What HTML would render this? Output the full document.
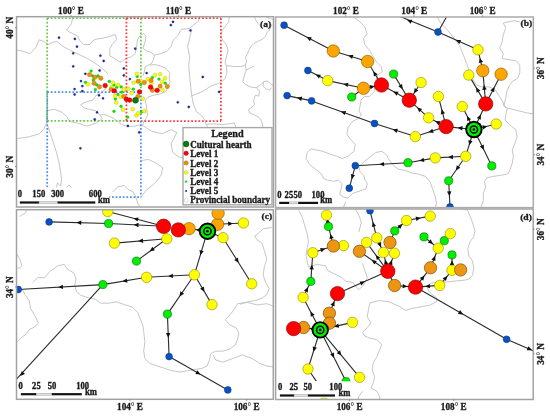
<!DOCTYPE html>
<html><head><meta charset="utf-8"><style>
html,body{margin:0;padding:0;background:#fff;}
svg{display:block;filter:blur(0.35px);}
text{font-family:"Liberation Serif", "DejaVu Serif", serif;fill:#1a1a1a;}
</style></head><body>
<svg width="550" height="416" viewBox="0 0 550 416">
<defs><clipPath id="ca"><rect x="16.5" y="16.7" width="257" height="190.3"/></clipPath><clipPath id="cb"><rect x="275.6" y="16.7" width="257.8" height="190.8"/></clipPath><clipPath id="cc"><rect x="16.5" y="209.7" width="256.8" height="189.6"/></clipPath><clipPath id="cd"><rect x="275.6" y="209" width="257.6" height="190.5"/></clipPath></defs><text x="0" y="0" font-size="9.2" text-anchor="middle" font-weight="bold" stroke="#1a1a1a" stroke-width="0.32" transform="translate(71 13.5) scale(1 1.08)">100<tspan stroke="none">°</tspan> E</text><text x="0" y="0" font-size="9.2" text-anchor="middle" font-weight="bold" stroke="#1a1a1a" stroke-width="0.32" transform="translate(178.5 13.5) scale(1 1.08)">110<tspan stroke="none">°</tspan> E</text><text x="0" y="0" font-size="9.2" text-anchor="middle" font-weight="bold" stroke="#1a1a1a" stroke-width="0.32" transform="translate(12.6 27.8) rotate(-90) scale(1 1.08)">40<tspan stroke="none">°</tspan> N</text><text x="0" y="0" font-size="9.2" text-anchor="middle" font-weight="bold" stroke="#1a1a1a" stroke-width="0.32" transform="translate(12.6 166.8) rotate(-90) scale(1 1.08)">30<tspan stroke="none">°</tspan> N</text><text x="0" y="0" font-size="9.2" text-anchor="middle" font-weight="bold" stroke="#1a1a1a" stroke-width="0.32" transform="translate(346 13.5) scale(1 1.08)">102<tspan stroke="none">°</tspan> E</text><text x="0" y="0" font-size="9.2" text-anchor="middle" font-weight="bold" stroke="#1a1a1a" stroke-width="0.32" transform="translate(414.3 13.5) scale(1 1.08)">104<tspan stroke="none">°</tspan> E</text><text x="0" y="0" font-size="9.2" text-anchor="middle" font-weight="bold" stroke="#1a1a1a" stroke-width="0.32" transform="translate(482.6 13.5) scale(1 1.08)">106<tspan stroke="none">°</tspan> E</text><text x="0" y="0" font-size="9.2" text-anchor="middle" font-weight="bold" stroke="#1a1a1a" stroke-width="0.32" transform="translate(543.8 68.3) rotate(-90) scale(1 1.08)">36<tspan stroke="none">°</tspan> N</text><text x="0" y="0" font-size="9.2" text-anchor="middle" font-weight="bold" stroke="#1a1a1a" stroke-width="0.32" transform="translate(543.8 154.7) rotate(-90) scale(1 1.08)">34<tspan stroke="none">°</tspan> N</text><text x="0" y="0" font-size="9.2" text-anchor="middle" font-weight="bold" stroke="#1a1a1a" stroke-width="0.32" transform="translate(12.6 287.2) rotate(-90) scale(1 1.08)">34<tspan stroke="none">°</tspan> N</text><text x="0" y="0" font-size="9.2" text-anchor="middle" font-weight="bold" stroke="#1a1a1a" stroke-width="0.32" transform="translate(130 409.6) scale(1 1.08)">104<tspan stroke="none">°</tspan> E</text><text x="0" y="0" font-size="9.2" text-anchor="middle" font-weight="bold" stroke="#1a1a1a" stroke-width="0.32" transform="translate(246.6 409.6) scale(1 1.08)">106<tspan stroke="none">°</tspan> E</text><text x="0" y="0" font-size="9.2" text-anchor="middle" font-weight="bold" stroke="#1a1a1a" stroke-width="0.32" transform="translate(349.6 409.8) scale(1 1.08)">106<tspan stroke="none">°</tspan> E</text><text x="0" y="0" font-size="9.2" text-anchor="middle" font-weight="bold" stroke="#1a1a1a" stroke-width="0.32" transform="translate(453.8 409.8) scale(1 1.08)">108<tspan stroke="none">°</tspan> E</text><text x="0" y="0" font-size="9.2" text-anchor="middle" font-weight="bold" stroke="#1a1a1a" stroke-width="0.32" transform="translate(543.8 229.3) rotate(-90) scale(1 1.08)">36<tspan stroke="none">°</tspan> N</text><text x="0" y="0" font-size="9.2" text-anchor="middle" font-weight="bold" stroke="#1a1a1a" stroke-width="0.32" transform="translate(543.8 353.9) rotate(-90) scale(1 1.08)">34<tspan stroke="none">°</tspan> N</text><g clip-path="url(#cb)"><g><polyline points="354.0,17.2 359.9,21.9 364.7,26.6 367.0,33.7 363.5,38.5 364.7,44.4 369.4,50.3 372.9,56.2 376.5,62.1 381.2,66.8 382.4,71.6 377.7,75.1 376.0,80.0 375.0,86.0 374.1,91.7 369.4,96.4 364.7,96.4 361.1,99.9 359.9,107.0 358.9,110.4 361.3,115.2 357.7,118.8 352.9,121.2 348.1,127.2 346.9,134.4 350.5,139.3 355.3,144.1 354.1,151.3 348.1,156.1 342.1,158.5 336.1,156.1 328.9,153.7 322.9,151.3 316.9,150.1 310.9,148.9 307.3,152.5 306.0,158.5 309.7,164.5 315.7,169.3 320.5,172.9 324.1,178.9 327.7,180.1 333.7,181.3 338.5,180.1 342.1,183.7 340.9,189.7 339.7,194.5 343.3,196.9 348.1,198.1 352.9,193.3 360.1,190.9 366.1,188.5 367.3,183.7 364.9,180.1 363.7,175.3 360.1,171.7 358.9,166.9 364.9,160.9 371.0,156.1 375.8,152.5 381.8,151.3 386.6,154.9 389.0,159.7 393.8,165.7 398.6,169.3 406.0,170.5 411.2,172.9 418.4,174.1 425.6,176.5 430.4,182.5 432.8,189.7 435.3,196.9 436.5,203.0 435.3,207.5" fill="none" stroke="#bcbcbc" stroke-width="0.85" stroke-linejoin="round"/><polyline points="345.7,201.8 343.3,207.5" fill="none" stroke="#bcbcbc" stroke-width="0.85" stroke-linejoin="round"/><polyline points="437.1,16.7 440.6,23.1 444.2,26.6 447.7,30.2 451.3,34.9 456.0,40.8 459.6,45.6 461.9,51.5 464.3,57.4 466.6,63.3 469.0,70.4 472.6,78.6 476.1,84.6 482.0,86.9 489.1,86.9 495.0,89.3 498.6,95.2 503.0,102.0 505.7,108.0" fill="none" stroke="#bcbcbc" stroke-width="0.85" stroke-linejoin="round"/><polyline points="519.8,21.9 515.1,20.7 508.0,21.9 503.3,23.1 505.7,27.8 503.3,34.9 502.1,42.0 499.7,47.9 503.3,53.8 502.1,58.6 509.2,59.7 516.3,60.9 519.8,65.6 519.8,72.7 517.5,78.6 512.7,81.0 509.2,85.7 506.8,91.7 505.7,98.7 503.3,105.8 507.4,108.0 506.2,112.8 505.0,120.0 509.8,124.8 515.8,129.6 517.0,136.8 514.6,144.1 512.2,150.1 513.4,156.1 512.2,163.3 509.8,170.5 507.4,174.1 500.2,175.3 492.9,176.5 486.9,177.7 484.5,181.3 485.7,187.3 483.3,193.3 483.3,200.5 480.9,207.5" fill="none" stroke="#bcbcbc" stroke-width="0.85" stroke-linejoin="round"/><polyline points="507.4,108.0 517.0,110.4 526.6,112.8 533.4,114.0" fill="none" stroke="#bcbcbc" stroke-width="0.85" stroke-linejoin="round"/></g><line x1="473.9" y1="129.5" x2="446.1" y2="126.6" stroke="#2a2a2a" stroke-width="1.1"/>
<line x1="473.9" y1="129.5" x2="462.3" y2="106.5" stroke="#2a2a2a" stroke-width="1.1"/>
<line x1="473.9" y1="129.5" x2="485.7" y2="103.9" stroke="#2a2a2a" stroke-width="1.1"/>
<line x1="473.9" y1="129.5" x2="496.2" y2="124.0" stroke="#2a2a2a" stroke-width="1.1"/>
<line x1="473.9" y1="129.5" x2="465.7" y2="156.3" stroke="#2a2a2a" stroke-width="1.1"/>
<line x1="473.9" y1="129.5" x2="491.8" y2="165.9" stroke="#2a2a2a" stroke-width="1.1"/>
<line x1="485.7" y1="103.9" x2="468.8" y2="75.1" stroke="#2a2a2a" stroke-width="1.1"/>
<line x1="485.7" y1="103.9" x2="482.8" y2="70.7" stroke="#2a2a2a" stroke-width="1.1"/>
<line x1="485.7" y1="103.9" x2="501.1" y2="74.2" stroke="#2a2a2a" stroke-width="1.1"/>
<line x1="482.8" y1="70.7" x2="478.0" y2="49.8" stroke="#2a2a2a" stroke-width="1.1"/>
<line x1="478.0" y1="49.8" x2="438.0" y2="32.0" stroke="#2a2a2a" stroke-width="1.1"/>
<line x1="438.0" y1="32.0" x2="400.6" y2="16.7" stroke="#2a2a2a" stroke-width="1.1"/>
<line x1="438.0" y1="32.0" x2="446.6" y2="16.7" stroke="#2a2a2a" stroke-width="1.1"/>
<line x1="446.1" y1="126.6" x2="438.4" y2="96.5" stroke="#2a2a2a" stroke-width="1.1"/>
<line x1="446.1" y1="126.6" x2="428.6" y2="117.8" stroke="#2a2a2a" stroke-width="1.1"/>
<line x1="428.6" y1="117.8" x2="409.3" y2="100.2" stroke="#2a2a2a" stroke-width="1.1"/>
<line x1="446.1" y1="126.6" x2="415.3" y2="136.6" stroke="#2a2a2a" stroke-width="1.1"/>
<line x1="415.3" y1="136.6" x2="374.5" y2="123.5" stroke="#2a2a2a" stroke-width="1.1"/>
<line x1="374.5" y1="123.5" x2="311.6" y2="100.9" stroke="#2a2a2a" stroke-width="1.1"/>
<line x1="311.6" y1="100.9" x2="287.1" y2="95.6" stroke="#2a2a2a" stroke-width="1.1"/>
<line x1="421.1" y1="82.5" x2="409.3" y2="100.2" stroke="#2a2a2a" stroke-width="1.1"/>
<line x1="393.6" y1="74.1" x2="409.3" y2="100.2" stroke="#2a2a2a" stroke-width="1.1"/>
<line x1="409.3" y1="100.2" x2="381.5" y2="85.0" stroke="#2a2a2a" stroke-width="1.1"/>
<line x1="363.5" y1="88.3" x2="381.5" y2="85.0" stroke="#2a2a2a" stroke-width="1.1"/>
<line x1="363.5" y1="88.3" x2="351.7" y2="97.0" stroke="#2a2a2a" stroke-width="1.1"/>
<line x1="363.5" y1="88.3" x2="327.7" y2="80.6" stroke="#2a2a2a" stroke-width="1.1"/>
<line x1="327.7" y1="80.6" x2="307.9" y2="70.5" stroke="#2a2a2a" stroke-width="1.1"/>
<line x1="381.5" y1="85.0" x2="367.6" y2="61.5" stroke="#2a2a2a" stroke-width="1.1"/>
<line x1="367.6" y1="61.5" x2="333.3" y2="51.0" stroke="#2a2a2a" stroke-width="1.1"/>
<line x1="333.3" y1="51.0" x2="284.1" y2="25.2" stroke="#2a2a2a" stroke-width="1.1"/>
<line x1="465.7" y1="156.3" x2="435.3" y2="157.9" stroke="#2a2a2a" stroke-width="1.1"/>
<line x1="435.3" y1="157.9" x2="408.0" y2="162.7" stroke="#2a2a2a" stroke-width="1.1"/>
<line x1="408.0" y1="162.7" x2="355.3" y2="165.7" stroke="#2a2a2a" stroke-width="1.1"/>
<line x1="355.3" y1="165.7" x2="349.3" y2="188.2" stroke="#2a2a2a" stroke-width="1.1"/>
<line x1="465.7" y1="156.3" x2="448.7" y2="180.8" stroke="#2a2a2a" stroke-width="1.1"/>
<line x1="448.7" y1="180.8" x2="450.0" y2="206.9" stroke="#2a2a2a" stroke-width="1.1"/>
<polygon points="457.6,127.8 462.6,126.1 462.2,130.5" fill="#111"/>
<polygon points="467.0,115.9 471.1,119.2 467.2,121.1" fill="#111"/>
<polygon points="480.8,114.5 480.8,119.8 476.8,118.0" fill="#111"/>
<polygon points="487.4,126.2 483.2,129.5 482.2,125.2" fill="#111"/>
<polygon points="469.1,145.2 468.4,140.0 472.6,141.2" fill="#111"/>
<polygon points="483.9,149.9 479.8,146.5 483.8,144.6" fill="#111"/>
<polygon points="476.0,87.4 480.4,90.5 476.6,92.7" fill="#111"/>
<polygon points="484.0,84.9 486.7,89.5 482.3,89.9" fill="#111"/>
<polygon points="494.5,86.9 494.2,92.2 490.3,90.2" fill="#111"/>
<polygon points="479.9,57.9 483.1,62.1 478.8,63.1" fill="#111"/>
<polygon points="455.8,39.9 461.1,39.9 459.3,43.9" fill="#111"/>
<polygon points="407.1,20.0 412.4,19.8 410.7,23.8" fill="#111"/>
<polygon points="441.7,109.2 445.0,113.3 440.7,114.4" fill="#111"/>
<polygon points="435.2,121.1 440.5,121.3 438.5,125.2" fill="#111"/>
<polygon points="417.2,107.4 422.2,109.0 419.2,112.2" fill="#111"/>
<polygon points="428.4,132.3 432.3,128.8 433.7,133.0" fill="#111"/>
<polygon points="392.6,129.3 397.9,128.7 396.5,132.9" fill="#111"/>
<polygon points="340.8,111.4 346.1,110.9 344.6,115.1" fill="#111"/>
<polygon points="297.0,97.7 302.2,96.6 301.2,100.9" fill="#111"/>
<polygon points="413.9,93.3 414.7,88.1 418.4,90.6" fill="#111"/>
<polygon points="402.7,89.2 398.3,86.2 402.1,84.0" fill="#111"/>
<polygon points="393.3,91.4 398.6,91.8 396.5,95.7" fill="#111"/>
<polygon points="374.9,86.2 370.5,89.2 369.7,84.9" fill="#111"/>
<polygon points="343.3,83.9 348.4,82.8 347.5,87.1" fill="#111"/>
<polygon points="315.7,74.5 320.9,74.7 318.9,78.6" fill="#111"/>
<polygon points="373.3,71.2 377.7,74.2 373.9,76.4" fill="#111"/>
<polygon points="348.2,55.5 353.4,54.8 352.1,59.1" fill="#111"/>
<polygon points="306.6,37.0 311.8,37.3 309.8,41.2" fill="#111"/>
<polygon points="448.1,157.2 452.8,154.8 453.0,159.2" fill="#111"/>
<polygon points="419.3,160.7 423.6,157.7 424.4,162.1" fill="#111"/>
<polygon points="379.3,164.3 383.9,161.9 384.2,166.3" fill="#111"/>
<polygon points="351.7,179.3 350.8,174.1 355.0,175.2" fill="#111"/>
<polygon points="455.8,170.5 456.8,165.3 460.4,167.8" fill="#111"/>
<polygon points="449.5,196.2 447.0,191.6 451.4,191.3" fill="#111"/><circle cx="307.9" cy="70.5" r="3.40" fill="#0a50c0" stroke="#0a3a8a" stroke-width="0.6"/>
<circle cx="284.1" cy="25.2" r="3.40" fill="#0a50c0" stroke="#0a3a8a" stroke-width="0.6"/>
<circle cx="438.0" cy="32.0" r="3.40" fill="#0a50c0" stroke="#0a3a8a" stroke-width="0.6"/>
<circle cx="374.5" cy="123.5" r="3.40" fill="#0a50c0" stroke="#0a3a8a" stroke-width="0.6"/>
<circle cx="311.6" cy="100.9" r="3.40" fill="#0a50c0" stroke="#0a3a8a" stroke-width="0.6"/>
<circle cx="287.1" cy="95.6" r="3.40" fill="#0a50c0" stroke="#0a3a8a" stroke-width="0.6"/>
<circle cx="355.3" cy="165.7" r="3.40" fill="#0a50c0" stroke="#0a3a8a" stroke-width="0.6"/>
<circle cx="349.3" cy="188.2" r="3.40" fill="#0a50c0" stroke="#0a3a8a" stroke-width="0.6"/>
<circle cx="450.0" cy="206.9" r="3.40" fill="#0a50c0" stroke="#0a3a8a" stroke-width="0.6"/>
<circle cx="491.8" cy="165.9" r="4.10" fill="#00ee00" stroke="#006a00" stroke-width="0.6"/>
<circle cx="393.6" cy="74.1" r="4.10" fill="#00ee00" stroke="#006a00" stroke-width="0.6"/>
<circle cx="351.7" cy="97.0" r="4.10" fill="#00ee00" stroke="#006a00" stroke-width="0.6"/>
<circle cx="408.0" cy="162.7" r="4.10" fill="#00ee00" stroke="#006a00" stroke-width="0.6"/>
<circle cx="448.7" cy="180.8" r="4.10" fill="#00ee00" stroke="#006a00" stroke-width="0.6"/>
<circle cx="462.3" cy="106.5" r="5.20" fill="#ffff00" stroke="#8a8a00" stroke-width="0.6"/>
<circle cx="496.2" cy="124.0" r="5.20" fill="#ffff00" stroke="#8a8a00" stroke-width="0.6"/>
<circle cx="465.7" cy="156.3" r="5.20" fill="#ffff00" stroke="#8a8a00" stroke-width="0.6"/>
<circle cx="438.4" cy="96.5" r="5.20" fill="#ffff00" stroke="#8a8a00" stroke-width="0.6"/>
<circle cx="428.6" cy="117.8" r="5.20" fill="#ffff00" stroke="#8a8a00" stroke-width="0.6"/>
<circle cx="421.1" cy="82.5" r="5.20" fill="#ffff00" stroke="#8a8a00" stroke-width="0.6"/>
<circle cx="327.7" cy="80.6" r="5.20" fill="#ffff00" stroke="#8a8a00" stroke-width="0.6"/>
<circle cx="468.8" cy="75.1" r="5.20" fill="#ffff00" stroke="#8a8a00" stroke-width="0.6"/>
<circle cx="478.0" cy="49.8" r="5.20" fill="#ffff00" stroke="#8a8a00" stroke-width="0.6"/>
<circle cx="415.3" cy="136.6" r="5.20" fill="#ffff00" stroke="#8a8a00" stroke-width="0.6"/>
<circle cx="435.3" cy="157.9" r="5.20" fill="#ffff00" stroke="#8a8a00" stroke-width="0.6"/>
<circle cx="363.5" cy="88.3" r="6.20" fill="#ffa500" stroke="#7a5200" stroke-width="0.6"/>
<circle cx="367.6" cy="61.5" r="6.20" fill="#ffa500" stroke="#7a5200" stroke-width="0.6"/>
<circle cx="333.3" cy="51.0" r="6.20" fill="#ffa500" stroke="#7a5200" stroke-width="0.6"/>
<circle cx="482.8" cy="70.7" r="6.20" fill="#ffa500" stroke="#7a5200" stroke-width="0.6"/>
<circle cx="501.1" cy="74.2" r="6.20" fill="#ffa500" stroke="#7a5200" stroke-width="0.6"/>
<circle cx="446.1" cy="126.6" r="7.20" fill="#ff0000" stroke="#7a0000" stroke-width="0.6"/>
<circle cx="485.7" cy="103.9" r="7.20" fill="#ff0000" stroke="#7a0000" stroke-width="0.6"/>
<circle cx="409.3" cy="100.2" r="7.20" fill="#ff0000" stroke="#7a0000" stroke-width="0.6"/>
<circle cx="381.5" cy="85.0" r="7.20" fill="#ff0000" stroke="#7a0000" stroke-width="0.6"/>
<circle cx="473.9" cy="129.5" r="8.7" fill="#000"/><circle cx="473.9" cy="129.5" r="6.79" fill="#00f000"/><circle cx="473.9" cy="129.5" r="4.35" fill="#000"/><circle cx="473.9" cy="129.5" r="2.87" fill="#00f000"/><circle cx="473.9" cy="129.5" r="1.30" fill="#000"/></g><g clip-path="url(#cc)"><g><polyline points="19.6,216.4 25.6,212.8 26.8,209.7" fill="none" stroke="#bcbcbc" stroke-width="0.85" stroke-linejoin="round"/><polyline points="16.5,253.7 19.6,258.5 22.0,265.7 19.6,268.1 16.5,268.0" fill="none" stroke="#bcbcbc" stroke-width="0.85" stroke-linejoin="round"/><polyline points="18.2,289.5 22.6,290.0 25.3,295.3 29.2,300.6 30.6,308.5 34.5,315.1 38.5,323.1 34.5,327.0 29.2,329.7 26.6,333.7 21.3,337.6 17.3,341.6" fill="none" stroke="#bcbcbc" stroke-width="0.85" stroke-linejoin="round"/><polyline points="32.8,282.5 37.6,277.7 44.8,277.7 49.7,271.7 58.1,265.7 64.1,264.5 67.7,269.3 73.7,272.9 76.1,278.9 74.9,284.9 76.1,290.9 80.8,295.3 88.8,297.9 95.4,299.3 100.7,303.2 108.6,303.2 116.5,301.9 124.5,304.6 132.4,307.2 137.7,312.5 140.3,319.1 143.0,325.7 143.7,331.7 144.9,341.5 143.7,351.2 144.9,358.5 149.8,363.4 157.1,365.9 164.4,368.3 171.7,370.7 180.2,372.0 187.6,370.7 194.9,369.5 202.2,368.3 207.1,365.9 209.5,359.8 210.7,353.7 215.6,351.2 222.9,351.2 230.2,348.8 235.1,345.1 237.6,339.0 238.8,332.9 236.3,328.0 229.0,324.4 225.4,319.5 230.2,314.6 233.9,309.8 237.6,303.7 247.3,302.4 257.1,304.9 266.8,303.7 273.3,306.1" fill="none" stroke="#bcbcbc" stroke-width="0.85" stroke-linejoin="round"/><polyline points="271.7,227.5 263.2,228.7 259.5,232.4 254.6,236.0 257.1,239.7 262.0,243.4 264.4,250.7 266.8,259.2 264.4,266.5 263.2,275.1 265.6,282.4 269.3,288.5 266.8,294.6 262.0,298.2 254.6,300.7 247.3,301.9 240.0,304.3" fill="none" stroke="#bcbcbc" stroke-width="0.85" stroke-linejoin="round"/><polyline points="213.2,354.9 215.6,359.8 222.9,362.2 232.7,358.5 242.4,354.9 252.2,358.5 259.5,363.4 266.8,365.9 273.3,367.1" fill="none" stroke="#bcbcbc" stroke-width="0.85" stroke-linejoin="round"/></g><line x1="207.5" y1="231.2" x2="189.1" y2="228.7" stroke="#2a2a2a" stroke-width="1.1"/>
<line x1="163.6" y1="226.3" x2="107.8" y2="211.5" stroke="#2a2a2a" stroke-width="1.1"/>
<line x1="163.6" y1="226.3" x2="108.6" y2="223.5" stroke="#2a2a2a" stroke-width="1.1"/>
<line x1="108.6" y1="223.5" x2="49.1" y2="221.9" stroke="#2a2a2a" stroke-width="1.1"/>
<line x1="166.8" y1="238.8" x2="114.4" y2="243.1" stroke="#2a2a2a" stroke-width="1.1"/>
<line x1="166.8" y1="238.8" x2="136.5" y2="261.1" stroke="#2a2a2a" stroke-width="1.1"/>
<line x1="217.6" y1="224.3" x2="243.5" y2="223.0" stroke="#2a2a2a" stroke-width="1.1"/>
<line x1="207.5" y1="231.2" x2="194.4" y2="274.8" stroke="#2a2a2a" stroke-width="1.1"/>
<line x1="223.0" y1="237.7" x2="251.7" y2="283.8" stroke="#2a2a2a" stroke-width="1.1"/>
<line x1="194.4" y1="274.8" x2="146.6" y2="277.3" stroke="#2a2a2a" stroke-width="1.1"/>
<line x1="146.6" y1="277.3" x2="102.9" y2="284.6" stroke="#2a2a2a" stroke-width="1.1"/>
<line x1="102.9" y1="284.6" x2="18.2" y2="289.5" stroke="#2a2a2a" stroke-width="1.1"/>
<line x1="102.9" y1="284.6" x2="16.5" y2="379.2" stroke="#2a2a2a" stroke-width="1.1"/>
<line x1="194.4" y1="274.8" x2="167.4" y2="314.1" stroke="#2a2a2a" stroke-width="1.1"/>
<line x1="194.4" y1="274.8" x2="212.0" y2="304.6" stroke="#2a2a2a" stroke-width="1.1"/>
<line x1="167.4" y1="314.1" x2="169.1" y2="356.6" stroke="#2a2a2a" stroke-width="1.1"/>
<line x1="169.1" y1="356.6" x2="227.8" y2="389.9" stroke="#2a2a2a" stroke-width="1.1"/>
<line x1="207.5" y1="231.2" x2="223.0" y2="237.7" stroke="#2a2a2a" stroke-width="1.1"/>
<line x1="207.5" y1="231.2" x2="217.6" y2="224.3" stroke="#2a2a2a" stroke-width="1.1"/>
<polygon points="195.9,229.6 201.0,228.1 200.4,232.5" fill="#111"/>
<polygon points="133.4,218.3 138.6,217.4 137.5,221.6" fill="#111"/>
<polygon points="133.7,224.8 138.6,222.8 138.4,227.2" fill="#111"/>
<polygon points="76.5,222.6 81.3,220.6 81.2,225.0" fill="#111"/>
<polygon points="138.2,241.1 142.8,238.6 143.2,242.9" fill="#111"/>
<polygon points="149.7,251.4 152.3,246.8 154.9,250.3" fill="#111"/>
<polygon points="232.9,223.5 228.3,226.0 228.0,221.6" fill="#111"/>
<polygon points="200.3,255.3 199.5,250.1 203.7,251.3" fill="#111"/>
<polygon points="238.6,262.8 234.2,259.9 237.9,257.5" fill="#111"/>
<polygon points="168.1,276.2 172.8,273.7 173.0,278.1" fill="#111"/>
<polygon points="122.4,281.3 126.8,278.4 127.5,282.7" fill="#111"/>
<polygon points="58.2,287.2 62.8,284.7 63.1,289.1" fill="#111"/>
<polygon points="20.2,376.1 21.8,371.0 25.0,374.0" fill="#111"/>
<polygon points="179.5,296.4 180.4,291.2 184.1,293.7" fill="#111"/>
<polygon points="204.4,291.8 200.1,288.8 203.9,286.5" fill="#111"/>
<polygon points="168.3,337.7 166.0,333.0 170.4,332.9" fill="#111"/>
<polygon points="200.5,374.4 195.3,374.0 197.4,370.2" fill="#111"/><circle cx="49.1" cy="221.9" r="3.40" fill="#0a50c0" stroke="#0a3a8a" stroke-width="0.6"/>
<circle cx="18.2" cy="289.5" r="3.40" fill="#0a50c0" stroke="#0a3a8a" stroke-width="0.6"/>
<circle cx="169.1" cy="356.6" r="3.40" fill="#0a50c0" stroke="#0a3a8a" stroke-width="0.6"/>
<circle cx="227.8" cy="389.9" r="3.40" fill="#0a50c0" stroke="#0a3a8a" stroke-width="0.6"/>
<circle cx="108.6" cy="223.5" r="4.10" fill="#00ee00" stroke="#006a00" stroke-width="0.6"/>
<circle cx="136.5" cy="261.1" r="4.10" fill="#00ee00" stroke="#006a00" stroke-width="0.6"/>
<circle cx="102.9" cy="284.6" r="4.10" fill="#00ee00" stroke="#006a00" stroke-width="0.6"/>
<circle cx="167.4" cy="314.1" r="4.10" fill="#00ee00" stroke="#006a00" stroke-width="0.6"/>
<circle cx="243.5" cy="223.0" r="5.20" fill="#ffff00" stroke="#8a8a00" stroke-width="0.6"/>
<circle cx="223.0" cy="237.7" r="5.20" fill="#ffff00" stroke="#8a8a00" stroke-width="0.6"/>
<circle cx="166.8" cy="238.8" r="5.20" fill="#ffff00" stroke="#8a8a00" stroke-width="0.6"/>
<circle cx="107.8" cy="211.5" r="5.20" fill="#ffff00" stroke="#8a8a00" stroke-width="0.6"/>
<circle cx="114.4" cy="243.1" r="5.20" fill="#ffff00" stroke="#8a8a00" stroke-width="0.6"/>
<circle cx="194.4" cy="274.8" r="5.20" fill="#ffff00" stroke="#8a8a00" stroke-width="0.6"/>
<circle cx="146.6" cy="277.3" r="5.20" fill="#ffff00" stroke="#8a8a00" stroke-width="0.6"/>
<circle cx="212.0" cy="304.6" r="5.20" fill="#ffff00" stroke="#8a8a00" stroke-width="0.6"/>
<circle cx="251.7" cy="283.8" r="5.20" fill="#ffff00" stroke="#8a8a00" stroke-width="0.6"/>
<circle cx="189.1" cy="228.7" r="6.20" fill="#ffa500" stroke="#7a5200" stroke-width="0.6"/>
<circle cx="217.6" cy="224.3" r="6.20" fill="#ffa500" stroke="#7a5200" stroke-width="0.6"/>
<circle cx="218.1" cy="213.2" r="6.20" fill="#ffa500" stroke="#7a5200" stroke-width="0.6"/>
<circle cx="163.6" cy="226.3" r="7.20" fill="#ff0000" stroke="#7a0000" stroke-width="0.6"/>
<circle cx="178.3" cy="229.9" r="7.20" fill="#ff0000" stroke="#7a0000" stroke-width="0.6"/>
<circle cx="207.5" cy="231.2" r="8.7" fill="#000"/><circle cx="207.5" cy="231.2" r="6.79" fill="#00f000"/><circle cx="207.5" cy="231.2" r="4.35" fill="#000"/><circle cx="207.5" cy="231.2" r="2.87" fill="#00f000"/><circle cx="207.5" cy="231.2" r="1.30" fill="#000"/></g><g clip-path="url(#cd)"><g><polyline points="298.8,210.4 302.4,217.6 304.8,226.0 307.3,234.4 308.5,241.7 307.3,247.7 306.0,254.9 307.3,262.1 308.5,266.9 316.9,264.5 325.3,265.7 327.7,270.5 334.9,274.1 342.1,277.7 345.7,281.3 352.9,282.5 356.5,287.3 358.9,289.7 363.7,284.9 367.3,277.7 364.9,270.5 362.5,263.3" fill="none" stroke="#bcbcbc" stroke-width="0.85" stroke-linejoin="round"/><polyline points="355.3,209.2 358.9,215.2 361.3,222.4 358.9,232.0" fill="none" stroke="#bcbcbc" stroke-width="0.85" stroke-linejoin="round"/><polyline points="369.8,303.0 379.4,300.5 389.0,301.8 398.6,306.0 405.8,310.5 411.6,308.4 417.5,307.6 423.3,306.2 429.1,305.5 433.5,303.3 437.1,301.1 436.4,297.5 432.0,294.5 429.1,291.6 427.6,288.7 429.1,284.4 432.0,282.9 437.8,282.2 443.6,282.2 450.9,281.5 458.2,280.7 465.5,280.0 468.9,278.9" fill="none" stroke="#bcbcbc" stroke-width="0.85" stroke-linejoin="round"/><polyline points="369.8,303.0 368.5,309.6 367.3,316.8 371.0,322.8 367.3,327.6 362.5,332.5 364.9,336.1 371.0,338.5 377.0,339.7 381.8,344.5 379.4,350.5 377.0,356.5 373.4,362.5 372.2,369.7 374.6,376.9 373.4,382.9 371.0,387.7 377.0,391.3 379.4,396.2 380.0,399.5" fill="none" stroke="#bcbcbc" stroke-width="0.85" stroke-linejoin="round"/><polyline points="362.5,391.3 358.9,396.2 358.0,399.5" fill="none" stroke="#bcbcbc" stroke-width="0.85" stroke-linejoin="round"/><polyline points="462.9,209.2 467.7,210.4 470.1,216.4 472.5,222.4 474.9,230.8 473.7,236.8 470.1,241.7 467.7,248.9 468.9,256.1 472.5,260.9 473.7,268.1 472.5,275.3 468.9,278.9" fill="none" stroke="#bcbcbc" stroke-width="0.85" stroke-linejoin="round"/></g><line x1="320.2" y1="329.9" x2="303.1" y2="297.4" stroke="#2a2a2a" stroke-width="1.1"/>
<line x1="303.1" y1="297.4" x2="310.8" y2="281.4" stroke="#2a2a2a" stroke-width="1.1"/>
<line x1="310.8" y1="281.4" x2="312.8" y2="252.7" stroke="#2a2a2a" stroke-width="1.1"/>
<line x1="312.8" y1="252.7" x2="333.4" y2="246.0" stroke="#2a2a2a" stroke-width="1.1"/>
<line x1="333.4" y1="246.0" x2="328.5" y2="226.6" stroke="#2a2a2a" stroke-width="1.1"/>
<line x1="328.5" y1="226.6" x2="326.5" y2="215.1" stroke="#2a2a2a" stroke-width="1.1"/>
<line x1="329.4" y1="313.2" x2="337.5" y2="293.6" stroke="#2a2a2a" stroke-width="1.1"/>
<line x1="337.5" y1="293.6" x2="387.8" y2="271.3" stroke="#2a2a2a" stroke-width="1.1"/>
<line x1="387.8" y1="271.3" x2="359.4" y2="251.3" stroke="#2a2a2a" stroke-width="1.1"/>
<line x1="387.8" y1="271.3" x2="366.5" y2="242.4" stroke="#2a2a2a" stroke-width="1.1"/>
<line x1="387.8" y1="271.3" x2="383.4" y2="252.4" stroke="#2a2a2a" stroke-width="1.1"/>
<line x1="387.8" y1="271.3" x2="394.5" y2="253.2" stroke="#2a2a2a" stroke-width="1.1"/>
<line x1="376.8" y1="237.8" x2="383.4" y2="252.4" stroke="#2a2a2a" stroke-width="1.1"/>
<line x1="376.8" y1="237.8" x2="370.0" y2="210.7" stroke="#2a2a2a" stroke-width="1.1"/>
<line x1="390.0" y1="242.4" x2="394.8" y2="230.9" stroke="#2a2a2a" stroke-width="1.1"/>
<line x1="394.8" y1="230.9" x2="406.5" y2="220.5" stroke="#2a2a2a" stroke-width="1.1"/>
<line x1="406.5" y1="220.5" x2="430.2" y2="216.1" stroke="#2a2a2a" stroke-width="1.1"/>
<line x1="387.8" y1="271.3" x2="394.6" y2="285.5" stroke="#2a2a2a" stroke-width="1.1"/>
<line x1="394.6" y1="285.5" x2="415.5" y2="287.1" stroke="#2a2a2a" stroke-width="1.1"/>
<line x1="415.5" y1="287.1" x2="430.5" y2="267.8" stroke="#2a2a2a" stroke-width="1.1"/>
<line x1="439.7" y1="285.4" x2="415.5" y2="287.1" stroke="#2a2a2a" stroke-width="1.1"/>
<line x1="415.5" y1="287.1" x2="506.6" y2="339.3" stroke="#2a2a2a" stroke-width="1.1"/>
<line x1="506.6" y1="339.3" x2="533.2" y2="350.8" stroke="#2a2a2a" stroke-width="1.1"/>
<line x1="430.5" y1="267.8" x2="438.2" y2="248.2" stroke="#2a2a2a" stroke-width="1.1"/>
<line x1="424.0" y1="236.9" x2="438.2" y2="248.2" stroke="#2a2a2a" stroke-width="1.1"/>
<line x1="439.7" y1="285.4" x2="452.0" y2="270.3" stroke="#2a2a2a" stroke-width="1.1"/>
<line x1="452.0" y1="270.3" x2="452.0" y2="254.9" stroke="#2a2a2a" stroke-width="1.1"/>
<line x1="352.5" y1="322.4" x2="320.2" y2="329.9" stroke="#2a2a2a" stroke-width="1.1"/>
<line x1="320.2" y1="329.9" x2="308.0" y2="369.0" stroke="#2a2a2a" stroke-width="1.1"/>
<line x1="308.0" y1="369.0" x2="316.3" y2="381.1" stroke="#2a2a2a" stroke-width="1.1"/>
<line x1="320.2" y1="329.9" x2="346.0" y2="381.6" stroke="#2a2a2a" stroke-width="1.1"/>
<line x1="320.2" y1="329.9" x2="359.6" y2="377.3" stroke="#2a2a2a" stroke-width="1.1"/>
<line x1="320.2" y1="329.9" x2="303.5" y2="327.5" stroke="#2a2a2a" stroke-width="1.1"/>
<polygon points="310.5,311.5 314.7,314.7 310.8,316.8" fill="#111"/>
<polygon points="308.0,287.2 307.9,292.5 303.9,290.6" fill="#111"/>
<polygon points="312.0,264.7 313.8,269.6 309.4,269.3" fill="#111"/>
<polygon points="325.4,248.6 321.5,252.2 320.1,248.0" fill="#111"/>
<polygon points="330.4,234.0 333.7,238.1 329.4,239.2" fill="#111"/>
<polygon points="327.1,218.5 330.1,222.8 325.7,223.6" fill="#111"/>
<polygon points="334.4,301.2 334.6,306.5 330.5,304.8" fill="#111"/>
<polygon points="364.8,281.5 361.3,285.4 359.6,281.4" fill="#111"/>
<polygon points="371.6,259.9 376.8,260.9 374.3,264.5" fill="#111"/>
<polygon points="375.7,254.9 380.3,257.5 376.8,260.1" fill="#111"/>
<polygon points="385.1,259.5 388.3,263.7 384.0,264.7" fill="#111"/>
<polygon points="392.0,260.0 392.4,265.3 388.3,263.7" fill="#111"/>
<polygon points="381.1,247.3 377.1,243.8 381.1,242.0" fill="#111"/>
<polygon points="372.8,221.9 376.1,226.0 371.9,227.1" fill="#111"/>
<polygon points="402.4,224.1 400.3,228.9 397.4,225.7" fill="#111"/>
<polygon points="420.7,217.9 416.4,220.9 415.6,216.6" fill="#111"/>
<polygon points="407.4,286.5 402.5,288.3 402.8,283.9" fill="#111"/>
<polygon points="424.5,275.6 423.3,280.7 419.8,278.0" fill="#111"/>
<polygon points="425.2,286.4 429.8,283.9 430.1,288.3" fill="#111"/>
<polygon points="463.1,314.4 457.9,313.9 460.1,310.1" fill="#111"/>
<polygon points="532.0,350.2 526.7,350.3 528.5,346.2" fill="#111"/>
<polygon points="435.2,255.8 435.5,261.0 431.4,259.4" fill="#111"/>
<polygon points="433.0,244.0 427.9,242.8 430.6,239.3" fill="#111"/>
<polygon points="447.4,276.0 446.0,281.1 442.6,278.3" fill="#111"/>
<polygon points="452.0,260.2 454.2,265.0 449.8,265.0" fill="#111"/>
<polygon points="334.0,326.7 338.2,323.5 339.2,327.8" fill="#111"/>
<polygon points="313.4,351.7 312.7,346.5 316.9,347.8" fill="#111"/>
<polygon points="334.2,357.9 330.1,354.6 334.0,352.6" fill="#111"/>
<polygon points="341.4,355.4 336.7,353.2 340.1,350.3" fill="#111"/>
<polygon points="309.5,328.4 314.5,326.9 313.9,331.2" fill="#111"/><circle cx="370.0" cy="210.7" r="3.40" fill="#0a50c0" stroke="#0a3a8a" stroke-width="0.6"/>
<circle cx="506.6" cy="339.3" r="3.40" fill="#0a50c0" stroke="#0a3a8a" stroke-width="0.6"/>
<circle cx="310.8" cy="281.4" r="4.10" fill="#00ee00" stroke="#006a00" stroke-width="0.6"/>
<circle cx="328.5" cy="226.6" r="4.10" fill="#00ee00" stroke="#006a00" stroke-width="0.6"/>
<circle cx="394.8" cy="230.9" r="4.10" fill="#00ee00" stroke="#006a00" stroke-width="0.6"/>
<circle cx="424.0" cy="236.9" r="4.10" fill="#00ee00" stroke="#006a00" stroke-width="0.6"/>
<circle cx="452.0" cy="254.9" r="4.10" fill="#00ee00" stroke="#006a00" stroke-width="0.6"/>
<circle cx="444.3" cy="240.7" r="4.10" fill="#00ee00" stroke="#006a00" stroke-width="0.6"/>
<circle cx="346.0" cy="381.6" r="4.10" fill="#00ee00" stroke="#006a00" stroke-width="0.6"/>
<circle cx="352.5" cy="322.4" r="5.20" fill="#ffff00" stroke="#8a8a00" stroke-width="0.6"/>
<circle cx="303.1" cy="297.4" r="5.20" fill="#ffff00" stroke="#8a8a00" stroke-width="0.6"/>
<circle cx="312.8" cy="252.7" r="5.20" fill="#ffff00" stroke="#8a8a00" stroke-width="0.6"/>
<circle cx="343.5" cy="245.6" r="5.20" fill="#ffff00" stroke="#8a8a00" stroke-width="0.6"/>
<circle cx="326.5" cy="215.1" r="5.20" fill="#ffff00" stroke="#8a8a00" stroke-width="0.6"/>
<circle cx="366.5" cy="242.4" r="5.20" fill="#ffff00" stroke="#8a8a00" stroke-width="0.6"/>
<circle cx="376.8" cy="237.8" r="5.20" fill="#ffff00" stroke="#8a8a00" stroke-width="0.6"/>
<circle cx="383.4" cy="252.4" r="5.20" fill="#ffff00" stroke="#8a8a00" stroke-width="0.6"/>
<circle cx="394.5" cy="253.2" r="5.20" fill="#ffff00" stroke="#8a8a00" stroke-width="0.6"/>
<circle cx="406.5" cy="220.5" r="5.20" fill="#ffff00" stroke="#8a8a00" stroke-width="0.6"/>
<circle cx="430.2" cy="216.1" r="5.20" fill="#ffff00" stroke="#8a8a00" stroke-width="0.6"/>
<circle cx="439.7" cy="285.4" r="5.20" fill="#ffff00" stroke="#8a8a00" stroke-width="0.6"/>
<circle cx="438.2" cy="248.2" r="5.20" fill="#ffff00" stroke="#8a8a00" stroke-width="0.6"/>
<circle cx="452.0" cy="270.3" r="5.20" fill="#ffff00" stroke="#8a8a00" stroke-width="0.6"/>
<circle cx="450.3" cy="233.6" r="5.20" fill="#ffff00" stroke="#8a8a00" stroke-width="0.6"/>
<circle cx="308.0" cy="369.0" r="5.20" fill="#ffff00" stroke="#8a8a00" stroke-width="0.6"/>
<circle cx="359.6" cy="377.3" r="5.20" fill="#ffff00" stroke="#8a8a00" stroke-width="0.6"/>
<circle cx="303.5" cy="327.5" r="6.20" fill="#ec9614" stroke="#6a4000" stroke-width="0.6"/>
<circle cx="329.4" cy="313.2" r="6.20" fill="#ec9614" stroke="#6a4000" stroke-width="0.6"/>
<circle cx="329.4" cy="323.2" r="6.20" fill="#ec9614" stroke="#6a4000" stroke-width="0.6"/>
<circle cx="333.4" cy="246.0" r="6.20" fill="#ec9614" stroke="#6a4000" stroke-width="0.6"/>
<circle cx="359.4" cy="251.3" r="6.20" fill="#ec9614" stroke="#6a4000" stroke-width="0.6"/>
<circle cx="390.0" cy="242.4" r="6.20" fill="#ec9614" stroke="#6a4000" stroke-width="0.6"/>
<circle cx="394.6" cy="285.5" r="6.20" fill="#ec9614" stroke="#6a4000" stroke-width="0.6"/>
<circle cx="430.5" cy="267.8" r="6.20" fill="#ec9614" stroke="#6a4000" stroke-width="0.6"/>
<circle cx="460.6" cy="269.9" r="6.20" fill="#ec9614" stroke="#6a4000" stroke-width="0.6"/>
<circle cx="293.6" cy="328.6" r="7.20" fill="#ff0000" stroke="#7a0000" stroke-width="0.6"/>
<circle cx="337.5" cy="293.6" r="7.20" fill="#ff0000" stroke="#7a0000" stroke-width="0.6"/>
<circle cx="387.8" cy="271.3" r="7.20" fill="#ff0000" stroke="#7a0000" stroke-width="0.6"/>
<circle cx="415.5" cy="287.1" r="7.20" fill="#ff0000" stroke="#7a0000" stroke-width="0.6"/>
<circle cx="320.2" cy="329.9" r="8.7" fill="#000"/><circle cx="320.2" cy="329.9" r="6.79" fill="#00f000"/><circle cx="320.2" cy="329.9" r="4.35" fill="#000"/><circle cx="320.2" cy="329.9" r="2.87" fill="#00f000"/><circle cx="320.2" cy="329.9" r="1.30" fill="#000"/></g><g clip-path="url(#ca)"><g><polyline points="16.0,49.8 23.7,51.4 29.8,53.7 36.0,47.5 39.0,39.8 43.7,41.4 48.3,44.5 52.9,42.2 56.8,41.4 62.2,46.0 70.6,50.6 80.6,55.2 88.3,59.1 96.0,63.7 100.0,66.8 104.0,70.0 108.0,74.0" fill="none" stroke="#bcbcbc" stroke-width="0.85" stroke-linejoin="round"/><polyline points="72.9,16.7 71.4,23.7 66.8,29.8 68.3,31.4 77.5,36.0 79.8,40.6 83.7,44.5 89.8,44.5 92.9,40.6 96.0,39.1 102.2,38.3 108.3,36.8 115.2,34.5 116.8,39.1 112.2,44.5 109.8,49.1 109.8,56.0 114.5,58.3 119.8,62.2 122.9,60.6 126.0,58.3 131.4,56.8 135.2,53.7 136.8,46.0 137.5,39.1 140.6,35.2 143.7,33.7 146.0,36.0 145.2,41.4 142.9,48.3 146.0,50.6 152.2,52.9 154.5,56.0 152.9,60.6 151.4,63.7 148.3,65.2 145.2,66.8 144.5,71.4 143.0,76.0" fill="none" stroke="#bcbcbc" stroke-width="0.85" stroke-linejoin="round"/><polyline points="154.5,55.2 160.6,53.7 166.8,51.4 171.4,46.0 172.9,40.6 177.5,36.0 181.3,29.4 189.4,28.5 194.7,24.0 198.3,21.3 200.0,16.7" fill="none" stroke="#bcbcbc" stroke-width="0.85" stroke-linejoin="round"/><polyline points="149.8,65.2 154.5,64.5 160.6,66.0 166.0,68.3 169.8,73.0 169.1,77.5 170.0,82.0 168.0,88.0 165.0,92.0 160.0,94.0 154.0,95.0 148.0,97.0 145.0,101.0 146.3,105.2 147.6,115.5 143.7,122.0 142.4,125.9" fill="none" stroke="#bcbcbc" stroke-width="0.85" stroke-linejoin="round"/><polyline points="191.2,31.2 189.4,39.2 187.6,46.5 189.7,57.3 188.7,66.0 189.7,76.8 190.8,87.6 191.9,96.3 193.0,102.8 196.2,111.4 201.6,115.8 204.9,120.1 206.0,124.4 208.0,127.6" fill="none" stroke="#bcbcbc" stroke-width="0.85" stroke-linejoin="round"/><polyline points="229.4,16.7 228.7,21.8 225.8,25.4 222.2,30.4 220.8,36.2 222.9,40.5 226.5,44.9 228.0,50.6 226.5,56.4 225.1,62.2 226.5,65.8 230.1,65.9 233.8,66.5 241.0,66.5 245.3,65.1 246.7,60.7 245.3,57.8 247.5,53.5 249.6,49.2 251.1,46.3 254.0,43.4 258.3,41.3 262.6,39.1 265.5,36.2 267.0,32.6 269.1,30.4 270.6,27.5 272.0,24.0" fill="none" stroke="#bcbcbc" stroke-width="0.85" stroke-linejoin="round"/><polyline points="254.0,16.7 256.8,21.8 259.7,25.4" fill="none" stroke="#bcbcbc" stroke-width="0.85" stroke-linejoin="round"/><polyline points="265.5,16.7 270.6,18.9 273.5,19.6" fill="none" stroke="#bcbcbc" stroke-width="0.85" stroke-linejoin="round"/><polyline points="226.5,65.8 226.8,73.4 225.1,78.5 221.7,81.8 218.4,83.5 215.0,84.4 210.3,86.5 201.6,92.0 190.8,96.3" fill="none" stroke="#bcbcbc" stroke-width="0.85" stroke-linejoin="round"/><polyline points="246.1,70.1 254.5,65.9" fill="none" stroke="#bcbcbc" stroke-width="0.85" stroke-linejoin="round"/><polyline points="245.3,65.1 246.1,70.1 244.4,76.0 242.7,81.8 245.3,84.4 250.3,86.9 256.2,87.7 260.4,85.2 263.7,81.8 267.1,81.0 270.5,83.5 273.5,86.0" fill="none" stroke="#bcbcbc" stroke-width="0.85" stroke-linejoin="round"/><polyline points="263.7,81.8 262.9,86.0 265.4,88.6 269.6,90.3 271.3,87.7" fill="none" stroke="#bcbcbc" stroke-width="0.85" stroke-linejoin="round"/><polyline points="256.2,87.7 259.5,91.1 258.7,96.1 255.3,95.3 253.7,100.3 254.5,104.5 252.0,107.1 248.6,109.6 249.5,112.9 253.7,114.6 257.0,116.3 260.4,118.8 262.1,123.0 262.9,127.6" fill="none" stroke="#bcbcbc" stroke-width="0.85" stroke-linejoin="round"/><polyline points="206.0,124.4 210.0,124.0 215.0,123.9 221.7,124.7 228.4,123.9 234.3,123.0 236.0,127.6" fill="none" stroke="#bcbcbc" stroke-width="0.85" stroke-linejoin="round"/><polyline points="46.8,110.8 54.5,109.3 62.2,112.3 66.8,117.0 69.9,121.6 77.6,123.1 86.9,126.2 96.1,123.1 102.3,118.5 100.0,115.3 96.1,110.8 90.0,109.5 83.8,107.7 80.7,104.6 86.9,101.6 93.0,100.0 96.1,95.4 102.3,92.3 106.0,88.0" fill="none" stroke="#bcbcbc" stroke-width="0.85" stroke-linejoin="round"/><polyline points="100.0,115.3 103.1,114.2 107.3,115.3 113.5,118.4 117.7,121.5 121.8,124.6 128.0,126.7 135.0,126.0 141.1,124.6" fill="none" stroke="#bcbcbc" stroke-width="0.85" stroke-linejoin="round"/><polyline points="46.8,110.8 46.8,123.1 43.7,129.3 39.1,133.9 28.3,137.0 17.5,138.5 16.0,138.5" fill="none" stroke="#bcbcbc" stroke-width="0.85" stroke-linejoin="round"/><polyline points="46.8,123.1 49.9,132.4 53.0,141.6 56.0,150.9 58.5,160.1 60.7,172.4 61.6,179.8 60.6,186.0 57.5,182.9 56.5,187.0" fill="none" stroke="#bcbcbc" stroke-width="0.85" stroke-linejoin="round"/><polyline points="65.8,188.1 68.9,185.0 72.0,188.1" fill="none" stroke="#bcbcbc" stroke-width="0.85" stroke-linejoin="round"/><polyline points="141.1,124.6 151.5,131.1 161.8,133.7 171.2,129.7 176.8,132.5 174.0,138.2 171.2,143.8 172.6,152.3 178.2,156.6 183.0,158.0" fill="none" stroke="#bcbcbc" stroke-width="0.85" stroke-linejoin="round"/><polyline points="140.0,160.8 148.5,159.4 157.0,163.7 162.7,167.9 161.2,175.0 157.0,180.7 151.3,186.3 145.7,190.6 141.1,197.2" fill="none" stroke="#bcbcbc" stroke-width="0.85" stroke-linejoin="round"/><polyline points="112.6,192.0 117.8,186.8 124.2,185.5 128.1,189.4 133.3,192.0 135.9,197.2 138.0,204.0 140.0,207.0" fill="none" stroke="#bcbcbc" stroke-width="0.85" stroke-linejoin="round"/></g><line x1="47.2" y1="18.2" x2="141" y2="18.2" stroke="#66cc44" stroke-width="1.75" stroke-dasharray="1.75 1.85"/><line x1="47.2" y1="18.2" x2="47.2" y2="120.8" stroke="#66cc44" stroke-width="1.75" stroke-dasharray="1.75 1.85"/><line x1="47.2" y1="120.8" x2="141" y2="120.8" stroke="#66cc44" stroke-width="1.75" stroke-dasharray="1.75 1.85"/><line x1="140.9" y1="18.2" x2="140.9" y2="92" stroke="#66cc44" stroke-width="1.75" stroke-dasharray="1.75 1.85"/><line x1="126.4" y1="18.2" x2="220.9" y2="18.2" stroke="#ff3a3a" stroke-width="1.75" stroke-dasharray="1.75 1.85"/><line x1="126.4" y1="18.2" x2="126.4" y2="121" stroke="#ff3a3a" stroke-width="1.75" stroke-dasharray="1.75 1.85"/><line x1="126.4" y1="121" x2="220.9" y2="121" stroke="#ff3a3a" stroke-width="1.75" stroke-dasharray="1.75 1.85"/><line x1="220.9" y1="18.2" x2="220.9" y2="121" stroke="#ff3a3a" stroke-width="1.75" stroke-dasharray="1.75 1.85"/><line x1="47.2" y1="92" x2="140.9" y2="92" stroke="#4a90f0" stroke-width="1.75" stroke-dasharray="1.75 1.85"/><line x1="47.2" y1="92" x2="47.2" y2="197.2" stroke="#4a90f0" stroke-width="1.75" stroke-dasharray="1.75 1.85"/><line x1="47.2" y1="197.2" x2="140.9" y2="197.2" stroke="#4a90f0" stroke-width="1.75" stroke-dasharray="1.75 1.85"/><line x1="140.9" y1="92" x2="140.9" y2="197.2" stroke="#4a90f0" stroke-width="1.75" stroke-dasharray="1.75 1.85"/><circle cx="59" cy="37.7" r="1.15" fill="#1a2a8c" stroke="#1a2a8c" stroke-width="0.3"/><circle cx="74.9" cy="38.9" r="1.15" fill="#1a2a8c" stroke="#1a2a8c" stroke-width="0.3"/><circle cx="77" cy="46.7" r="1.15" fill="#1a2a8c" stroke="#1a2a8c" stroke-width="0.3"/><circle cx="73.2" cy="53.3" r="1.15" fill="#1a2a8c" stroke="#1a2a8c" stroke-width="0.3"/><circle cx="100.4" cy="55.7" r="1.15" fill="#1a2a8c" stroke="#1a2a8c" stroke-width="0.3"/><circle cx="73.2" cy="66.4" r="1.15" fill="#1a2a8c" stroke="#1a2a8c" stroke-width="0.3"/><circle cx="85.3" cy="73.8" r="1.15" fill="#1a2a8c" stroke="#1a2a8c" stroke-width="0.3"/><circle cx="99.6" cy="70.5" r="1.15" fill="#1a2a8c" stroke="#1a2a8c" stroke-width="0.3"/><circle cx="81" cy="81.1" r="1.15" fill="#1a2a8c" stroke="#1a2a8c" stroke-width="0.3"/><circle cx="103.7" cy="61" r="1.15" fill="#1a2a8c" stroke="#1a2a8c" stroke-width="0.3"/><circle cx="173" cy="21.9" r="1.15" fill="#1a2a8c" stroke="#1a2a8c" stroke-width="0.3"/><circle cx="170.9" cy="25.1" r="1.15" fill="#1a2a8c" stroke="#1a2a8c" stroke-width="0.3"/><circle cx="135.2" cy="48.7" r="1.15" fill="#1a2a8c" stroke="#1a2a8c" stroke-width="0.3"/><circle cx="123.8" cy="68.4" r="1.15" fill="#1a2a8c" stroke="#1a2a8c" stroke-width="0.3"/><circle cx="123.8" cy="75.4" r="1.15" fill="#1a2a8c" stroke="#1a2a8c" stroke-width="0.3"/><circle cx="129.9" cy="79.1" r="1.15" fill="#1a2a8c" stroke="#1a2a8c" stroke-width="0.3"/><circle cx="146.7" cy="73.1" r="1.15" fill="#1a2a8c" stroke="#1a2a8c" stroke-width="0.3"/><circle cx="82.3" cy="86.1" r="1.15" fill="#1a2a8c" stroke="#1a2a8c" stroke-width="0.3"/><circle cx="74.6" cy="89.1" r="1.15" fill="#1a2a8c" stroke="#1a2a8c" stroke-width="0.3"/><circle cx="74.6" cy="94.5" r="1.15" fill="#1a2a8c" stroke="#1a2a8c" stroke-width="0.3"/><circle cx="82.3" cy="91.1" r="1.15" fill="#1a2a8c" stroke="#1a2a8c" stroke-width="0.3"/><circle cx="99" cy="95.3" r="1.15" fill="#1a2a8c" stroke="#1a2a8c" stroke-width="0.3"/><circle cx="103" cy="98.3" r="1.15" fill="#1a2a8c" stroke="#1a2a8c" stroke-width="0.3"/><circle cx="97" cy="112.3" r="1.15" fill="#1a2a8c" stroke="#1a2a8c" stroke-width="0.3"/><circle cx="94.7" cy="119.5" r="1.15" fill="#1a2a8c" stroke="#1a2a8c" stroke-width="0.3"/><circle cx="190.5" cy="30.4" r="1.15" fill="#1a2a8c" stroke="#1a2a8c" stroke-width="0.3"/><circle cx="202.8" cy="77" r="1.15" fill="#1a2a8c" stroke="#1a2a8c" stroke-width="0.3"/><circle cx="219.1" cy="91.9" r="1.15" fill="#1a2a8c" stroke="#1a2a8c" stroke-width="0.3"/><circle cx="177.8" cy="102.3" r="1.15" fill="#1a2a8c" stroke="#1a2a8c" stroke-width="0.3"/><circle cx="188.8" cy="107" r="1.15" fill="#1a2a8c" stroke="#1a2a8c" stroke-width="0.3"/><circle cx="127.9" cy="125.9" r="1.15" fill="#1a2a8c" stroke="#1a2a8c" stroke-width="0.3"/><circle cx="139.2" cy="132.4" r="1.15" fill="#1a2a8c" stroke="#1a2a8c" stroke-width="0.3"/><circle cx="80.4" cy="148.3" r="1.15" fill="#1a2a8c" stroke="#1a2a8c" stroke-width="0.3"/><circle cx="91.1" cy="71.1" r="1.4" fill="#00ee00" stroke="#00a000" stroke-width="0.3"/><circle cx="92.6" cy="76" r="1.4" fill="#00ee00" stroke="#00a000" stroke-width="0.3"/><circle cx="98" cy="76" r="1.4" fill="#00ee00" stroke="#00a000" stroke-width="0.3"/><circle cx="93.3" cy="79.9" r="1.4" fill="#00ee00" stroke="#00a000" stroke-width="0.3"/><circle cx="85.5" cy="82.3" r="1.4" fill="#00ee00" stroke="#00a000" stroke-width="0.3"/><circle cx="96.8" cy="84.9" r="1.4" fill="#00ee00" stroke="#00a000" stroke-width="0.3"/><circle cx="95.4" cy="89.7" r="1.4" fill="#00ee00" stroke="#00a000" stroke-width="0.3"/><circle cx="109.3" cy="81.5" r="1.4" fill="#00ee00" stroke="#00a000" stroke-width="0.3"/><circle cx="114" cy="84.9" r="1.4" fill="#00ee00" stroke="#00a000" stroke-width="0.3"/><circle cx="116.7" cy="87.3" r="1.4" fill="#00ee00" stroke="#00a000" stroke-width="0.3"/><circle cx="121.2" cy="86.9" r="1.4" fill="#00ee00" stroke="#00a000" stroke-width="0.3"/><circle cx="121.8" cy="92.1" r="1.4" fill="#00ee00" stroke="#00a000" stroke-width="0.3"/><circle cx="117.9" cy="94.4" r="1.4" fill="#00ee00" stroke="#00a000" stroke-width="0.3"/><circle cx="115.3" cy="99" r="1.4" fill="#00ee00" stroke="#00a000" stroke-width="0.3"/><circle cx="137.2" cy="76.5" r="1.4" fill="#00ee00" stroke="#00a000" stroke-width="0.3"/><circle cx="152.4" cy="77.6" r="1.4" fill="#00ee00" stroke="#00a000" stroke-width="0.3"/><circle cx="159" cy="79.1" r="1.4" fill="#00ee00" stroke="#00a000" stroke-width="0.3"/><circle cx="165.2" cy="83.2" r="1.4" fill="#00ee00" stroke="#00a000" stroke-width="0.3"/><circle cx="133.3" cy="89.2" r="1.4" fill="#00ee00" stroke="#00a000" stroke-width="0.3"/><circle cx="121" cy="106.3" r="1.4" fill="#00ee00" stroke="#00a000" stroke-width="0.3"/><circle cx="114" cy="111.3" r="1.4" fill="#00ee00" stroke="#00a000" stroke-width="0.3"/><circle cx="141.5" cy="111.9" r="1.4" fill="#00ee00" stroke="#00a000" stroke-width="0.3"/><circle cx="127.5" cy="117.2" r="1.4" fill="#00ee00" stroke="#00a000" stroke-width="0.3"/><circle cx="140.8" cy="84.6" r="1.4" fill="#00ee00" stroke="#00a000" stroke-width="0.3"/><circle cx="87.9" cy="84.2" r="1.9" fill="#ffff00" stroke="#9a9a00" stroke-width="0.3"/><circle cx="113" cy="82.6" r="1.9" fill="#ffff00" stroke="#9a9a00" stroke-width="0.3"/><circle cx="118.2" cy="84.9" r="1.9" fill="#ffff00" stroke="#9a9a00" stroke-width="0.3"/><circle cx="111.5" cy="87.3" r="1.9" fill="#ffff00" stroke="#9a9a00" stroke-width="0.3"/><circle cx="123.9" cy="89.5" r="1.9" fill="#ffff00" stroke="#9a9a00" stroke-width="0.3"/><circle cx="128.4" cy="88.5" r="1.9" fill="#ffff00" stroke="#9a9a00" stroke-width="0.3"/><circle cx="115" cy="96" r="1.9" fill="#ffff00" stroke="#9a9a00" stroke-width="0.3"/><circle cx="120.5" cy="96.7" r="1.9" fill="#ffff00" stroke="#9a9a00" stroke-width="0.3"/><circle cx="136.8" cy="73.9" r="1.9" fill="#ffff00" stroke="#9a9a00" stroke-width="0.3"/><circle cx="133.6" cy="82.6" r="1.9" fill="#ffff00" stroke="#9a9a00" stroke-width="0.3"/><circle cx="140.9" cy="80.8" r="1.9" fill="#ffff00" stroke="#9a9a00" stroke-width="0.3"/><circle cx="147.7" cy="79.1" r="1.9" fill="#ffff00" stroke="#9a9a00" stroke-width="0.3"/><circle cx="151.4" cy="83.2" r="1.9" fill="#ffff00" stroke="#9a9a00" stroke-width="0.3"/><circle cx="155.1" cy="75.1" r="1.9" fill="#ffff00" stroke="#9a9a00" stroke-width="0.3"/><circle cx="160.2" cy="74.1" r="1.9" fill="#ffff00" stroke="#9a9a00" stroke-width="0.3"/><circle cx="165" cy="78.2" r="1.9" fill="#ffff00" stroke="#9a9a00" stroke-width="0.3"/><circle cx="162.2" cy="81.8" r="1.9" fill="#ffff00" stroke="#9a9a00" stroke-width="0.3"/><circle cx="162.5" cy="90.2" r="1.9" fill="#ffff00" stroke="#9a9a00" stroke-width="0.3"/><circle cx="131.6" cy="93.1" r="1.9" fill="#ffff00" stroke="#9a9a00" stroke-width="0.3"/><circle cx="142.8" cy="98.7" r="1.9" fill="#ffff00" stroke="#9a9a00" stroke-width="0.3"/><circle cx="116.3" cy="102.6" r="1.9" fill="#ffff00" stroke="#9a9a00" stroke-width="0.3"/><circle cx="123" cy="109.7" r="1.9" fill="#ffff00" stroke="#9a9a00" stroke-width="0.3"/><circle cx="132.8" cy="109.2" r="1.9" fill="#ffff00" stroke="#9a9a00" stroke-width="0.3"/><circle cx="136.4" cy="115.4" r="1.9" fill="#ffff00" stroke="#9a9a00" stroke-width="0.3"/><circle cx="138.3" cy="113.3" r="1.9" fill="#ffff00" stroke="#9a9a00" stroke-width="0.3"/><circle cx="144.3" cy="111.2" r="1.9" fill="#ffff00" stroke="#9a9a00" stroke-width="0.3"/><circle cx="89.5" cy="74.6" r="2.2" fill="#f0900a" stroke="#8a5000" stroke-width="0.3"/><circle cx="95" cy="77.2" r="2.2" fill="#f0900a" stroke="#8a5000" stroke-width="0.3"/><circle cx="100.8" cy="78.2" r="2.2" fill="#f0900a" stroke="#8a5000" stroke-width="0.3"/><circle cx="94.1" cy="83.2" r="2.2" fill="#f0900a" stroke="#8a5000" stroke-width="0.3"/><circle cx="99.5" cy="86.8" r="2.2" fill="#f0900a" stroke="#8a5000" stroke-width="0.3"/><circle cx="111.1" cy="89.6" r="2.2" fill="#f0900a" stroke="#8a5000" stroke-width="0.3"/><circle cx="123.8" cy="96.4" r="2.2" fill="#f0900a" stroke="#8a5000" stroke-width="0.3"/><circle cx="138.2" cy="81.3" r="2.2" fill="#f0900a" stroke="#8a5000" stroke-width="0.3"/><circle cx="144.4" cy="82.5" r="2.2" fill="#f0900a" stroke="#8a5000" stroke-width="0.3"/><circle cx="151.1" cy="80.5" r="2.2" fill="#f0900a" stroke="#8a5000" stroke-width="0.3"/><circle cx="152.4" cy="90.2" r="2.2" fill="#f0900a" stroke="#8a5000" stroke-width="0.3"/><circle cx="160.2" cy="86.1" r="2.2" fill="#f0900a" stroke="#8a5000" stroke-width="0.3"/><circle cx="167.3" cy="86.5" r="2.2" fill="#f0900a" stroke="#8a5000" stroke-width="0.3"/><circle cx="137.9" cy="96.4" r="2.2" fill="#f0900a" stroke="#8a5000" stroke-width="0.3"/><circle cx="105.2" cy="85.6" r="2.4" fill="#ff0000" stroke="#8a0000" stroke-width="0.3"/><circle cx="114.3" cy="90.8" r="2.4" fill="#ff0000" stroke="#8a0000" stroke-width="0.3"/><circle cx="150.6" cy="87.2" r="2.4" fill="#ff0000" stroke="#8a0000" stroke-width="0.3"/><circle cx="157.2" cy="90.3" r="2.4" fill="#ff0000" stroke="#8a0000" stroke-width="0.3"/><circle cx="139.5" cy="91.8" r="2.4" fill="#ff0000" stroke="#8a0000" stroke-width="0.3"/><circle cx="126.4" cy="99.2" r="2.4" fill="#ff0000" stroke="#8a0000" stroke-width="0.3"/><circle cx="129.7" cy="100.1" r="2.4" fill="#ff0000" stroke="#8a0000" stroke-width="0.3"/><circle cx="135.5" cy="100.3" r="3" fill="#0a7a0a" stroke="#064006" stroke-width="0.4"/></g><text x="0" y="0" font-size="9.6" text-anchor="middle" font-weight="bold" stroke="#1a1a1a" stroke-width="0.32" transform="translate(265.6 27.1) scale(1 0.9)">(a)</text><rect x="183" y="127.6" width="89" height="77.2" fill="#fff" stroke="#a8a8a8" stroke-width="1.4"/><text x="0" y="0" font-size="10.2" text-anchor="middle" font-weight="bold" stroke="#1a1a1a" stroke-width="0.32" transform="translate(227.4 136.6) scale(1 1.1)">Legend</text><circle cx="186.1" cy="144" r="2.9" fill="#0a7a0a" stroke="#064006" stroke-width="0.4"/><circle cx="186.1" cy="153.3" r="2.3" fill="#ff0000" stroke="#8a0000" stroke-width="0.3"/><circle cx="186.1" cy="162.9" r="2.2" fill="#e8900c" stroke="#8a5000" stroke-width="0.3"/><circle cx="186.1" cy="172.4" r="1.9" fill="#ffff00" stroke="#9a9a00" stroke-width="0.3"/><circle cx="186.1" cy="181.6" r="1.2" fill="#00ee00"/><circle cx="186.1" cy="191" r="0.95" fill="#1a2a8c"/><circle cx="186.3" cy="200.3" r="2.1" fill="#fff" stroke="#c8c8c8" stroke-width="0.6"/><text x="0" y="0" font-size="9.1" text-anchor="start" font-weight="bold" stroke="#1a1a1a" stroke-width="0.32" transform="translate(190.2 148.1) scale(1 1.08)">Cultural hearth</text><text x="0" y="0" font-size="9.1" text-anchor="start" font-weight="bold" stroke="#1a1a1a" stroke-width="0.32" transform="translate(190.2 157.0) scale(1 1.08)">Level 1</text><text x="0" y="0" font-size="9.1" text-anchor="start" font-weight="bold" stroke="#1a1a1a" stroke-width="0.32" transform="translate(190.2 166.6) scale(1 1.08)">Level 2</text><text x="0" y="0" font-size="9.1" text-anchor="start" font-weight="bold" stroke="#1a1a1a" stroke-width="0.32" transform="translate(190.2 176.0) scale(1 1.08)">Level 3</text><text x="0" y="0" font-size="9.1" text-anchor="start" font-weight="bold" stroke="#1a1a1a" stroke-width="0.32" transform="translate(190.2 185.2) scale(1 1.08)">Level 4</text><text x="0" y="0" font-size="9.1" text-anchor="start" font-weight="bold" stroke="#1a1a1a" stroke-width="0.32" transform="translate(190.2 194.3) scale(1 1.08)">Level 5</text><text x="0" y="0" font-size="9.1" text-anchor="start" font-weight="bold" stroke="#1a1a1a" stroke-width="0.32" transform="translate(190.2 203.4) scale(1 1.08)">Provincial boundary</text><rect x="17.2" y="187.5" width="92" height="19" fill="#fff"/><text x="0" y="0" font-size="8.6" text-anchor="middle" font-weight="bold" stroke="#1a1a1a" stroke-width="0.32" transform="translate(19.8 197.4) scale(1 1.08)">0</text><text x="0" y="0" font-size="8.6" text-anchor="middle" font-weight="bold" stroke="#1a1a1a" stroke-width="0.32" transform="translate(38.8 197.4) scale(1 1.08)">150</text><text x="0" y="0" font-size="8.6" text-anchor="middle" font-weight="bold" stroke="#1a1a1a" stroke-width="0.32" transform="translate(57.6 197.4) scale(1 1.08)">300</text><text x="0" y="0" font-size="8.6" text-anchor="middle" font-weight="bold" stroke="#1a1a1a" stroke-width="0.32" transform="translate(95.3 197.4) scale(1 1.08)">600</text><text x="0" y="0" font-size="8.6" text-anchor="middle" font-weight="bold" stroke="#1a1a1a" stroke-width="0.32" transform="translate(104 203.4) scale(1 1.08)">km</text><rect x="19.8" y="201.4" width="19.2" height="2.2" fill="#111"/><rect x="39" y="201.5" width="18.6" height="2.0" fill="#e0e0e0" stroke="#888" stroke-width="0.35"/><rect x="57.6" y="201.4" width="37.7" height="2.2" fill="#111"/><rect x="276.3" y="189.5" width="57" height="17.5" fill="#fff"/><text x="0" y="0" font-size="8.6" text-anchor="middle" font-weight="bold" stroke="#1a1a1a" stroke-width="0.32" transform="translate(279.4 197.7) scale(1 1.08)">0</text><text x="0" y="0" font-size="8.6" text-anchor="middle" font-weight="bold" stroke="#1a1a1a" stroke-width="0.32" transform="translate(288.9 197.7) scale(1 1.08)">25</text><text x="0" y="0" font-size="8.6" text-anchor="middle" font-weight="bold" stroke="#1a1a1a" stroke-width="0.32" transform="translate(297.8 197.7) scale(1 1.08)">50</text><text x="0" y="0" font-size="8.6" text-anchor="middle" font-weight="bold" stroke="#1a1a1a" stroke-width="0.32" transform="translate(318 197.7) scale(1 1.08)">100</text><text x="0" y="0" font-size="8.6" text-anchor="middle" font-weight="bold" stroke="#1a1a1a" stroke-width="0.32" transform="translate(326.2 203.4) scale(1 1.08)">km</text><rect x="279.2" y="201.8" width="10.0" height="2.2" fill="#111"/><rect x="289.2" y="201.9" width="9.0" height="2.0" fill="#e0e0e0" stroke="#888" stroke-width="0.35"/><rect x="298.2" y="201.8" width="19.900000000000034" height="2.2" fill="#111"/><g clip-path="url(#cc)"><rect x="17.2" y="381.2" width="81" height="18" fill="#fff"/><text x="0" y="0" font-size="8.6" text-anchor="middle" font-weight="bold" stroke="#1a1a1a" stroke-width="0.32" transform="translate(20.6 389.3) scale(1 1.08)">0</text><text x="0" y="0" font-size="8.6" text-anchor="middle" font-weight="bold" stroke="#1a1a1a" stroke-width="0.32" transform="translate(36.4 389.3) scale(1 1.08)">25</text><text x="0" y="0" font-size="8.6" text-anchor="middle" font-weight="bold" stroke="#1a1a1a" stroke-width="0.32" transform="translate(52 389.3) scale(1 1.08)">50</text><text x="0" y="0" font-size="8.6" text-anchor="middle" font-weight="bold" stroke="#1a1a1a" stroke-width="0.32" transform="translate(82.6 389.3) scale(1 1.08)">100</text><text x="0" y="0" font-size="8.6" text-anchor="middle" font-weight="bold" stroke="#1a1a1a" stroke-width="0.32" transform="translate(91 395.2) scale(1 1.08)">km</text><rect x="20.9" y="393.09999999999997" width="15.399999999999999" height="2.2" fill="#111"/><rect x="36.3" y="393.2" width="15.5" height="2.0" fill="#e0e0e0" stroke="#888" stroke-width="0.35"/><rect x="51.8" y="393.09999999999997" width="30.0" height="2.2" fill="#111"/></g><g clip-path="url(#cd)"><circle cx="324" cy="403" r="5.3" fill="#ffff00" stroke="#8a8a00" stroke-width="0.6"/><rect x="276.3" y="381.3" width="76" height="16.3" fill="#fff"/><rect x="276.3" y="381.3" width="0" height="0" fill="#fff"/><text x="0" y="0" font-size="8.6" text-anchor="middle" font-weight="bold" stroke="#1a1a1a" stroke-width="0.32" transform="translate(280.1 390.3) scale(1 1.08)">0</text><text x="0" y="0" font-size="8.6" text-anchor="middle" font-weight="bold" stroke="#1a1a1a" stroke-width="0.32" transform="translate(293.7 390.3) scale(1 1.08)">25</text><text x="0" y="0" font-size="8.6" text-anchor="middle" font-weight="bold" stroke="#1a1a1a" stroke-width="0.32" transform="translate(307.7 390.3) scale(1 1.08)">50</text><text x="0" y="0" font-size="8.6" text-anchor="middle" font-weight="bold" stroke="#1a1a1a" stroke-width="0.32" transform="translate(335.8 390.3) scale(1 1.08)">100</text><text x="0" y="0" font-size="8.6" text-anchor="middle" font-weight="bold" stroke="#1a1a1a" stroke-width="0.32" transform="translate(344.4 396.3) scale(1 1.08)">km</text><rect x="279.9" y="394.4" width="14.200000000000045" height="2.2" fill="#111"/><rect x="294.1" y="394.5" width="13.899999999999977" height="2.0" fill="#e0e0e0" stroke="#888" stroke-width="0.35"/><rect x="308" y="394.4" width="27" height="2.2" fill="#111"/></g><text x="0" y="0" font-size="9.6" text-anchor="middle" font-weight="bold" stroke="#1a1a1a" stroke-width="0.32" transform="translate(526.3 25.9) scale(1 0.9)">(b)</text><text x="0" y="0" font-size="9.6" text-anchor="middle" font-weight="bold" stroke="#1a1a1a" stroke-width="0.32" transform="translate(266.9 219.4) scale(1 0.9)">(c)</text><text x="0" y="0" font-size="9.6" text-anchor="middle" font-weight="bold" stroke="#1a1a1a" stroke-width="0.32" transform="translate(526 219.6) scale(1 0.9)">(d)</text><rect x="16.5" y="16.7" width="257.0" height="190.3" fill="none" stroke="#a2a2a2" stroke-width="1.5"/><rect x="275.6" y="17.0" width="257.69999999999993" height="190.6" fill="none" stroke="#ababab" stroke-width="1.5"/><rect x="16.5" y="209.7" width="256.8" height="189.60000000000002" fill="none" stroke="#a2a2a2" stroke-width="1.5"/><rect x="275.6" y="209.0" width="257.6" height="190.5" fill="none" stroke="#a2a2a2" stroke-width="1.5"/><line x1="71" y1="15.2" x2="71" y2="16.7" stroke="#777" stroke-width="0.8"/><line x1="178.3" y1="15.2" x2="178.3" y2="16.7" stroke="#777" stroke-width="0.8"/><line x1="15" y1="27.6" x2="16.5" y2="27.6" stroke="#777" stroke-width="0.8"/><line x1="15" y1="166.5" x2="16.5" y2="166.5" stroke="#777" stroke-width="0.8"/><line x1="345.6" y1="15.2" x2="345.6" y2="16.7" stroke="#777" stroke-width="0.8"/><line x1="414" y1="15.2" x2="414" y2="16.7" stroke="#777" stroke-width="0.8"/><line x1="482.4" y1="15.2" x2="482.4" y2="16.7" stroke="#777" stroke-width="0.8"/><line x1="533.4" y1="68.2" x2="534.9" y2="68.2" stroke="#777" stroke-width="0.8"/><line x1="533.4" y1="154.6" x2="534.9" y2="154.6" stroke="#777" stroke-width="0.8"/><line x1="15" y1="287" x2="16.5" y2="287" stroke="#777" stroke-width="0.8"/><line x1="129.9" y1="399.3" x2="129.9" y2="400.8" stroke="#777" stroke-width="0.8"/><line x1="246.6" y1="399.3" x2="246.6" y2="400.8" stroke="#777" stroke-width="0.8"/><line x1="349.5" y1="399.5" x2="349.5" y2="401" stroke="#777" stroke-width="0.8"/><line x1="453.7" y1="399.5" x2="453.7" y2="401" stroke="#777" stroke-width="0.8"/><line x1="533.2" y1="229.2" x2="534.7" y2="229.2" stroke="#777" stroke-width="0.8"/><line x1="533.2" y1="353.8" x2="534.7" y2="353.8" stroke="#777" stroke-width="0.8"/>
</svg>
</body></html>
